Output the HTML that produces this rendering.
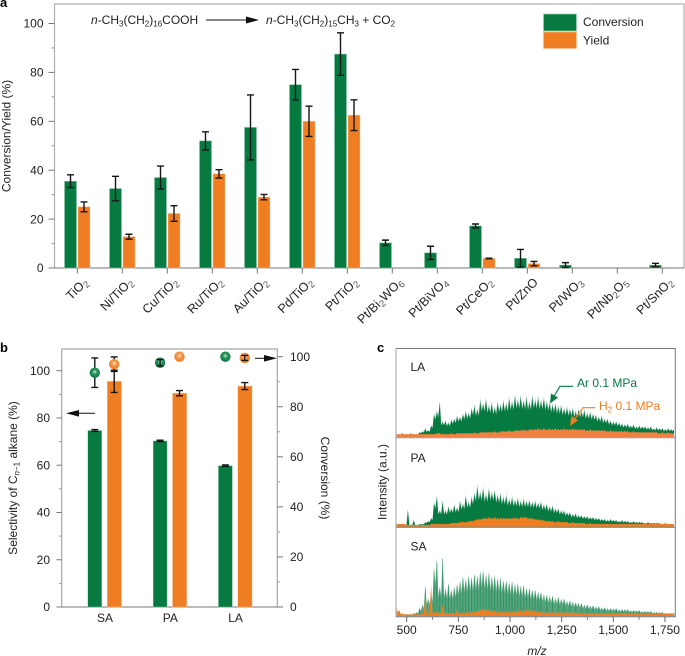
<!DOCTYPE html>
<html lang="en">
<head>
<meta charset="utf-8">
<title>Catalyst conversion, selectivity and mass spectra</title>
<style>
html,body{margin:0;padding:0;background:#fff;}
svg{display:block;}
text{font-family:"Liberation Sans",sans-serif;font-size:12px;fill:#222;}
.panel-letter{font-weight:bold;font-size:13px;fill:#000;}
.sm{font-size:8px;}
</style>
</head>
<body>
<svg id="fig" xmlns="http://www.w3.org/2000/svg" width="685" height="656" viewBox="0 0 685 656">
<defs>
<radialGradient id="gGreen" cx="0.5" cy="0.42" r="0.55"><stop offset="0" stop-color="#cfe8da"/><stop offset="0.4" stop-color="#2f9460"/><stop offset="1" stop-color="#067a41"/></radialGradient>
<radialGradient id="gOrange" cx="0.5" cy="0.42" r="0.55"><stop offset="0" stop-color="#fde3cc"/><stop offset="0.4" stop-color="#f29a50"/><stop offset="1" stop-color="#ef7d22"/></radialGradient>
<clipPath id="clipC"><rect x="396" y="348" width="279.5" height="269"/></clipPath>
</defs>

<!-- panel a static -->
<text class="panel-letter" x="0" y="7">a</text>
<text transform="translate(10.5,136) rotate(-90)" text-anchor="middle">Conversion/Yield (%)</text>
<path d="M54.5 268V4H684V268" fill="none" stroke="#b0b0b0" stroke-width="1.2"/>
<line x1="48.5" y1="268" x2="684" y2="268" stroke="#777" stroke-width="1"/>
<text x="91" y="24"><tspan font-style="italic">n</tspan>-CH<tspan class="sm" dy="2.5">3</tspan><tspan dy="-2.5">(CH</tspan><tspan class="sm" dy="2.5">2</tspan><tspan dy="-2.5">)</tspan><tspan class="sm" dy="2.5">16</tspan><tspan dy="-2.5">COOH</tspan></text>
<g><line x1="206" y1="20" x2="250" y2="20" stroke="#111" stroke-width="1"/><path d="M246 16.5L259 20L246 23.5Z" fill="#111"/></g>
<text x="266" y="24"><tspan font-style="italic">n</tspan>-CH<tspan class="sm" dy="2.5">3</tspan><tspan dy="-2.5">(CH</tspan><tspan class="sm" dy="2.5">2</tspan><tspan dy="-2.5">)</tspan><tspan class="sm" dy="2.5">15</tspan><tspan dy="-2.5">CH</tspan><tspan class="sm" dy="2.5">3</tspan><tspan dy="-2.5"> + CO</tspan><tspan class="sm" dy="2.5">2</tspan></text>
<g>
<rect x="543.5" y="14" width="33" height="17" fill="#067a41" stroke="#9fd0b6" stroke-width="0.7"/>
<text x="583" y="26">Conversion</text>
<rect x="543.5" y="32" width="33" height="16.5" fill="#ef7d22" stroke="#f7c198" stroke-width="0.7"/>
<text x="583" y="44.5">Yield</text>
</g>

<!-- panel b static -->
<text class="panel-letter" x="0" y="352">b</text>
<text transform="translate(17,478) rotate(-90)" text-anchor="middle">Selectivity of C<tspan class="sm" dy="2.5" font-style="italic">n</tspan><tspan class="sm">−1</tspan><tspan dy="-2.5"> alkane (%)</tspan></text>
<text transform="translate(321,478) rotate(90)" text-anchor="middle">Conversion (%)</text>
<path d="M61.7 607V349H277.3V607" fill="none" stroke="#a8a8a8" stroke-width="1.2"/>
<line x1="56.5" y1="607" x2="283" y2="607" stroke="#777" stroke-width="1"/>

<!-- panel c static -->
<text class="panel-letter" x="377" y="352">c</text>
<text transform="translate(386.5,482) rotate(-90)" text-anchor="middle">Intensity (a.u.)</text>
<text x="537" y="655" text-anchor="middle" font-style="italic">m/z</text>

<g id="plotA"></g>
<g id="plotB"></g>
<g id="plotC"></g>

<path d="M396 617V348.5H675.3V617" fill="none" stroke="#777" stroke-width="1"/>
<line x1="396" y1="348" x2="396" y2="617" stroke="#bbb" stroke-width="1.4"/>
<line x1="396" y1="437.7" x2="675.3" y2="437.7" stroke="#888" stroke-width="1"/>
<line x1="396" y1="527.3" x2="675.3" y2="527.3" stroke="#777" stroke-width="1"/>
<line x1="396" y1="616.7" x2="675.3" y2="616.7" stroke="#666" stroke-width="1"/>
<text x="410.5" y="371">LA</text>
<text x="410.5" y="462">PA</text>
<text x="410.5" y="550.5">SA</text>
<text x="577" y="387" style="fill:#067a41">Ar 0.1 MPa</text>
<g><path d="M573 386.3H560L553 398" fill="none" stroke="#067a41" stroke-width="1.1"/><path d="M550 403.5L551 393.5L558 397.5Z" fill="#067a41"/></g>
<text x="599" y="410" style="fill:#ef7d22">H<tspan class="sm" dy="2.5" style="fill:#ef7d22">2</tspan><tspan dy="-2.5" style="fill:#ef7d22"> 0.1 MPa</tspan></text>
<g><path d="M595 407.7H583L573.5 421" fill="none" stroke="#ef7d22" stroke-width="1.1"/><path d="M570 426L571.5 416L578 420.5Z" fill="#ef7d22"/></g>
</svg>

<script>
// ---------- panel a data ----------
const catalysts = ['TiO_2','Ni/TiO_2','Cu/TiO_2','Ru/TiO_2','Au/TiO_2','Pd/TiO_2','Pt/TiO_2','Pt/Bi_2WO_6','Pt/BiVO_4','Pt/CeO_2','Pt/ZnO','Pt/WO_3','Pt/Nb_2O_5','Pt/SnO_2'];
const conversion = [35.5,32.5,37,52,57.5,75,87.5,10.3,6.2,17.2,4,1.2,0,1.2];
const conversionErr = [2.6,5,4.7,3.7,13.3,6.2,8.7,1.1,2.7,0.8,3.6,1,0,0.7];
const yieldValues = [25,12.8,22.3,38.5,29,60,62.5,0,0,3.9,1.8,0,0,0];
const yieldErr = [2,1,3.2,1.7,1.1,6.2,6.3,0,0,0.1,0.9,0,0,0];
const yTicksA = [0,20,40,60,80,100];
const yMinorA = [10,30,50,70,90];

// ---------- panel b data ----------
const acids = ['SA','PA','LA'];
const selGreen = [74.7,70.3,59.8];
const selGreenErr = [0.4,0.3,0.3];
const selOrange = [95.5,90.5,93.5];
const selOrangeErr = [4.7,1.1,1.5];
const convGreen = [93.6,97.6,100];
const convGreenErr = [5.9,1.3,0];
const convOrange = [97,100,99.5];
const convOrangeErr = [2.9,0,1];
const yTicksBL = [0,20,40,60,80,100];
const yMinorBL = [10,30,50,70,90];
const yTicksBR = [0,20,40,60,80,100];
const yMinorBR = [10,30,50,70,90];

// ---------- panel c data (one value every 14 m/z from m/z 450) ----------
const mzStart = 450;
const mzStep = 14;
const xTickValuesC = [500,750,1000,1250,1500,1750];
const xTickLabelsC = ['500','750','1,000','1,250','1,500','1,750'];
const xMinorC = [625,875,1125,1375,1625];
const laAr = [3,3,4,3,3,4,3,3,5,6, 9,7,12,24,27,37,16,17,15,18, 19,22,21,24,27,25,30,33,29,39, 35,40,33,36,31,37,34,38,35,41, 37,44,39,43,38,42,37,43,39,42, 38,41,37,36,34,35,32,33,30,31, 29,30,27,29,27,28,25,26,24,23, 21,22,19,19,17,16,16,15,14,13, 14,12,13,11,12,11,11,10,11,9, 10,9,9,8,9,8,8];
const laH2 = [3,3,3,3,3,3,3,3,3,3, 3,3,3,3,4,4,3,3,3,4, 3,4,4,4,4,4,4,5,4,5, 5,5,5,5,6,5,6,6,6,7, 6,7,7,7,8,7,8,8,8,9, 8,9,8,9,8,9,8,8,9,8, 8,9,8,8,8,8,7,8,7,7, 7,7,7,6,7,6,6,6,6,6, 6,5,6,5,5,5,5,5,5,5, 5,4,5,4,5,4,4];
const paAr = [2,2,2,2,18,2,7,2,3,3, 5,6,9,25,32,17,27,17,21,19, 23,20,27,24,33,26,31,35,43,36, 41,34,40,36,38,33,35,31,33,29, 31,28,30,27,29,27,28,26,27,25, 26,23,24,21,22,19,19,17,17,15, 15,13,14,12,12,11,11,10,10,9, 9,8,8,7,8,7,7,6,7,6, 6,5,6,5,5,5,4,5,4,4, 4,4,3,4,3,3,3];
const paH2 = [3,3,3,3,2,2,2,2,2,2, 2,2,3,3,3,3,3,3,3,4, 4,4,5,5,5,6,6,7,8,8, 9,9,10,9,10,9,9,9,9,9, 9,10,9,10,10,10,9,9,8,8, 7,7,6,6,6,5,6,5,5,5, 4,5,4,4,4,4,3,4,3,3, 3,3,3,3,3,3,3,3,3,3, 3,3,3,3,3,3,3,3,3,3, 3,3,3,3,3,3,3];
const saAr = [2,2,2,2,2,2,3,4,8,12, 31,18,22,49,59,30,62,28,34,27, 30,33,36,41,38,42,40,44,42,46, 47,43,45,41,42,39,40,37,37,35, 36,33,34,31,32,29,29,27,27,25, 25,23,22,21,21,19,20,18,18,16, 16,15,14,14,13,12,12,11,11,10, 10,9,9,8,8,8,8,7,7,7, 7,6,6,6,6,5,5,5,5,4, 4,4,4,3,3,3,3];
const saH2 = [9,6,3,2,2,2,2,2,2,3, 21,3,31,4,5,4,12,4,3,3, 3,7,3,4,4,4,5,5,6,7, 8,7,7,6,6,5,5,5,5,5, 5,5,6,6,6,7,7,6,6,5, 5,4,4,4,4,4,4,4,4,4, 4,4,4,3,4,3,3,3,3,3, 3,3,3,3,3,3,3,3,3,3, 3,3,3,3,3,3,3,3,3,3, 3,3,3,3,3,3,3];

// ---------- helpers ----------
const SVGNS = 'http://www.w3.org/2000/svg';
const GREEN = '#067a41';
const ORANGE = '#ef7d22';
function mk(parent, tag, name, attrs) {
  const el = document.createElementNS(SVGNS, tag);
  
  
  for (const k in attrs) el.setAttribute(k, attrs[k]);
  parent.appendChild(el);
  return el;
}
function richLabel(el, str) {
  const parts = str.split(/_(\d)/);
  let shifted = false;
  parts.forEach(function (p, i) {
    if (!p) return;
    const t = document.createElementNS(SVGNS, 'tspan');
    t.textContent = p;
    if (i % 2 === 1) {
      t.setAttribute('dy', '2.5');
      t.setAttribute('fill', '#555');
      t.style.fontSize = '9.5px';
      t.style.fill = '#555';
      shifted = true;
    } else if (shifted) {
      t.setAttribute('dy', '-2.5');
      shifted = false;
    }
    el.appendChild(t);
  });
}
function errBar(parent, name, x, yHi, yLo, cap) {
  const g = mk(parent, 'g', name, {stroke:'#161616', 'stroke-width':'1.4', fill:'none'});
  const d = 'M' + x + ' ' + yHi + 'V' + yLo + 'M' + (x-cap) + ' ' + yHi + 'H' + (x+cap) + 'M' + (x-cap) + ' ' + yLo + 'H' + (x+cap);
  mk(g, 'path', name + '-path', {d:d});
}

// ---------- panel a ----------
(function () {
  const root = document.getElementById('plotA');
  const xA = function (i) { return 77.3 + 45 * i; };
  const yA = function (v) { return 268 - 2.445 * v; };
  yTicksA.forEach(function (v) {
    mk(root, 'line', 'y-tick', {x1:48.5, x2:54.5, y1:yA(v), y2:yA(v), stroke:'#777', 'stroke-width':1});
    const t = mk(root, 'text', 'y-tick-label', {x:43.5, y:yA(v)+4.2, 'text-anchor':'end'});
    t.textContent = v;
  });
  yMinorA.forEach(function (v) {
    mk(root, 'line', 'y-minor-tick', {x1:51.5, x2:54.5, y1:yA(v), y2:yA(v), stroke:'#999', 'stroke-width':1});
  });
  catalysts.forEach(function (c, i) {
    const x = xA(i);
    mk(root, 'line', 'x-tick', {x1:x, x2:x, y1:268, y2:273.5, stroke:'#777', 'stroke-width':1});
    const bx1 = x - 6.8, bx2 = x + 6.7;
    mk(root, 'rect', 'conversion-bar', {x:bx1-6, y:yA(conversion[i]), width:12, height:268-yA(conversion[i]), fill:GREEN, stroke:'#8cc7a8', 'stroke-width':0.5});
    mk(root, 'rect', 'yield-bar', {x:bx2-6, y:yA(yieldValues[i]), width:12, height:268-yA(yieldValues[i]), fill:ORANGE, stroke:'#f6bd92', 'stroke-width':0.5});
    if (conversionErr[i] > 0) errBar(root, 'conversion-error-bar', bx1, yA(conversion[i]+conversionErr[i]), yA(conversion[i]-conversionErr[i]), 3.5);
    if (yieldErr[i] > 0) errBar(root, 'yield-error-bar', bx2, yA(yieldValues[i]+yieldErr[i]), yA(yieldValues[i]-yieldErr[i]), 3.5);
    const lx = x + 11.5, ly = 283;
    const t = mk(root, 'text', 'x-tick-label', {x:0, y:0, 'text-anchor':'end', transform:'translate(' + lx + ',' + ly + ') rotate(-45)'});
    t.style.fontSize = '12.5px';
    richLabel(t, c);
  });
})();

// ---------- panel b ----------
(function () {
  const root = document.getElementById('plotB');
  const xB = function (i) { return 105 + 65.3 * i; };
  const yL = function (v) { return 607 - 2.363 * v; };
  const yR = function (v) { return 607 - 2.503 * v; };
  yTicksBL.forEach(function (v) {
    mk(root, 'line', 'left-y-tick', {x1:56.5, x2:61.7, y1:yL(v), y2:yL(v), stroke:'#777', 'stroke-width':1});
    const t = mk(root, 'text', 'left-y-tick-label', {x:50, y:yL(v)+4.2, 'text-anchor':'end'});
    t.textContent = v;
  });
  yMinorBL.forEach(function (v) {
    mk(root, 'line', 'left-y-minor-tick', {x1:59, x2:61.7, y1:yL(v), y2:yL(v), stroke:'#999', 'stroke-width':1});
  });
  yTicksBR.forEach(function (v) {
    mk(root, 'line', 'right-y-tick', {x1:277.3, x2:283, y1:yR(v), y2:yR(v), stroke:'#777', 'stroke-width':1});
    const t = mk(root, 'text', 'right-y-tick-label', {x:290, y:yR(v)+4.2});
    t.textContent = v;
  });
  yMinorBR.forEach(function (v) {
    mk(root, 'line', 'right-y-minor-tick', {x1:277.3, x2:280, y1:yR(v), y2:yR(v), stroke:'#999', 'stroke-width':1});
  });
  acids.forEach(function (a, i) {
    const x1 = xB(i) - 10.2, x2 = xB(i) + 9.2;
    mk(root, 'rect', 'selectivity-bar-green', {x:x1-7, y:yL(selGreen[i]), width:14, height:607-yL(selGreen[i]), fill:GREEN, stroke:'#a8d4bd', 'stroke-width':0.4});
    mk(root, 'rect', 'selectivity-bar-orange', {x:x2-7, y:yL(selOrange[i]), width:14.3, height:607-yL(selOrange[i]), fill:ORANGE, stroke:'#f8cba8', 'stroke-width':0.4});
    errBar(root, 'selectivity-error-green', x1, yL(selGreen[i]+selGreenErr[i]), yL(selGreen[i]-selGreenErr[i]), 3.5);
    errBar(root, 'selectivity-error-orange', x2, yL(selOrange[i]+selOrangeErr[i]), yL(selOrange[i]-selOrangeErr[i]), 3.5);
    if (convGreenErr[i] > 0) errBar(root, 'conversion-error-green', x1, yR(convGreen[i]+convGreenErr[i]), yR(convGreen[i]-convGreenErr[i]), 3.5);
    if (convOrangeErr[i] > 0) errBar(root, 'conversion-error-orange', x2, yR(convOrange[i]+convOrangeErr[i]), yR(convOrange[i]-convOrangeErr[i]), 3.5);
    mk(root, 'circle', 'conversion-point-green', {cx:x1, cy:yR(convGreen[i]), r:5.2, fill:'url(#gGreen)'});
    mk(root, 'circle', 'conversion-point-orange', {cx:x2, cy:yR(convOrange[i]), r:5.2, fill:'url(#gOrange)'});
    if (convGreenErr[i] > 0 && convGreenErr[i] < 2) errBar(root, 'conversion-error-green-front', x1, yR(convGreen[i]+convGreenErr[i]), yR(convGreen[i]-convGreenErr[i]), 3.5);
    if (convOrangeErr[i] > 0 && convOrangeErr[i] < 2) errBar(root, 'conversion-error-orange-front', x2, yR(convOrange[i]+convOrangeErr[i]), yR(convOrange[i]-convOrangeErr[i]), 3.5);
    const t = mk(root, 'text', 'x-category-label', {x:xB(i), y:622, 'text-anchor':'middle'});
    t.textContent = a;
  });
  const la = mk(root, 'g', 'selectivity-axis-arrow', {});
  mk(la, 'path', 'arrow-shaft', {d:'M95 413.3H72', stroke:'#111', 'stroke-width':1, fill:'none'});
  mk(la, 'path', 'arrow-head', {d:'M66 413.3L79 410V416.6Z', fill:'#111'});
  const ra = mk(root, 'g', 'conversion-axis-arrow', {});
  mk(ra, 'path', 'arrow-shaft', {d:'M255 358.3H270', stroke:'#111', 'stroke-width':1, fill:'none'});
  mk(ra, 'path', 'arrow-head', {d:'M277 358.3L264 355V361.6Z', fill:'#111'});
})();

// ---------- panel c ----------
(function () {
  const root = document.getElementById('plotC');
  const xC = function (m) { return 406.7 + (m - 500) * 0.2066; };
  // Each value is a narrow peak; a valley sits between neighbouring peaks.
  const pts = function (arr, base, kPeak, kValley) {
    const p = [xC(mzStart) + ',' + base];
    arr.forEach(function (v, i) {
      const x = xC(mzStart + i * mzStep);
      p.push(x.toFixed(1) + ',' + (base - v * kPeak).toFixed(1));
      if (i < arr.length - 1) {
        const xm = xC(mzStart + (i + 0.5) * mzStep);
        p.push(xm.toFixed(1) + ',' + (base - Math.min(v, arr[i + 1]) * kValley).toFixed(1));
      }
    });
    p.push(xC(mzStart + (arr.length - 1) * mzStep).toFixed(1) + ',' + base);
    return p.join(' ');
  };
  const clip = mk(root, 'g', 'spectra', {'clip-path':'url(#clipC)'});
  function solid(name, ar, h2, base, h2Fill) {
    mk(clip, 'polygon', name + '-ar-tips', {points:pts(ar, base, 1, 0.78), fill:GREEN, opacity:0.4});
    mk(clip, 'polygon', name + '-ar-body', {points:pts(ar, base, 0.92, 0.72), fill:GREEN});
    mk(clip, 'polygon', name + '-h2', {points:pts(h2, base, 1, 0.85), fill:h2Fill});
  }
  solid('spectrum-la', laAr, laH2, 437, '#ef8240');
  solid('spectrum-pa', paAr, paH2, 526.8, ORANGE);
  const base = 616;
  mk(clip, 'polygon', 'spectrum-sa-ar-tips', {points:pts(saAr, base, 1, 0.72), fill:GREEN, opacity:0.3});
  mk(clip, 'polygon', 'spectrum-sa-ar-body', {points:pts(saAr, base, 0.9, 0.62), fill:GREEN, opacity:0.55});
  saAr.forEach(function (v, i) {
    if (i % 2 !== 0 && v < 25) return;
    const x = xC(mzStart + i * mzStep);
    mk(clip, 'line', 'spectrum-sa-ar-peak', {x1:x, x2:x, y1:base, y2:base - v * 0.92, stroke:GREEN, 'stroke-width':0.9, opacity:0.45});
  });
  mk(clip, 'polygon', 'spectrum-sa-h2', {points:pts(saH2, base, 1, 0.6), fill:ORANGE});
  xTickValuesC.forEach(function (m, i) {
    const x = xC(m);
    mk(root, 'line', 'x-tick', {x1:x, x2:x, y1:617, y2:622, stroke:'#666', 'stroke-width':1});
    const t = mk(root, 'text', 'x-tick-label', {x:x, y:634, 'text-anchor':'middle'});
    t.textContent = xTickLabelsC[i];
  });
  xMinorC.forEach(function (m) {
    const x = xC(m);
    mk(root, 'line', 'x-minor-tick', {x1:x, x2:x, y1:617, y2:620, stroke:'#888', 'stroke-width':1});
  });
})();
</script>
</body>
</html>
